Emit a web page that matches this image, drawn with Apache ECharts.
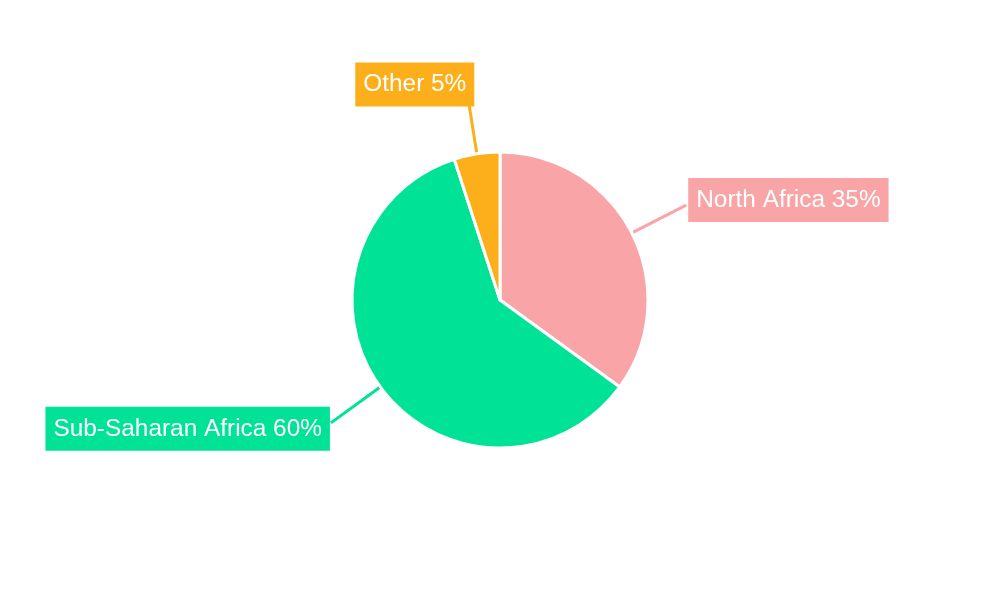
<!DOCTYPE html>
<html>
<head>
<meta charset="utf-8">
<script src="https://cdn.jsdelivr.net/npm/echarts@6/dist/echarts.min.js"></script>
<style>html,body{margin:0;padding:0;background:#fff;}#main{width:1000px;height:600px;}</style>
</head>
<body>
<div id="main"></div>
<script>
const categories = ['North Africa', 'Sub-Saharan Africa', 'Other'];
const values = [35, 60, 5];
const colors = ['#f9a4a7', '#00e295', '#fcaf1b'];
const labelShift = [[-3, -5], [4, 6], [12, -9]];

const chart = echarts.init(document.getElementById('main'));
chart.setOption({
  backgroundColor: '#ffffff',
  animation: false,
  series: [{
    type: 'pie',
    center: ['50%', '50%'],
    radius: 148,
    startAngle: 90,
    clockwise: true,
    data: categories.map((c, i) => ({
      name: c, value: values[i],
      itemStyle: { color: colors[i] },
      label: { backgroundColor: colors[i] }
    })),
    itemStyle: { borderColor: '#ffffff', borderWidth: 3 },
    label: {
      show: true,
      formatter: '{b} {c}%',
      color: '#ffffff',
      fontFamily: "'Liberation Sans', Arial, sans-serif",
      fontSize: 24.4,
      padding: [10, 8],
      lineHeight: 24
    },
    labelLine: {
      show: true,
      length: 61,
      length2: 0,
      lineStyle: { width: 3 }
    },
    labelLayout: function (p) {
      const s = labelShift[p.dataIndex];
      return { dx: s[0], dy: s[1] };
    }
  }]
});
</script>
</body>
</html>
